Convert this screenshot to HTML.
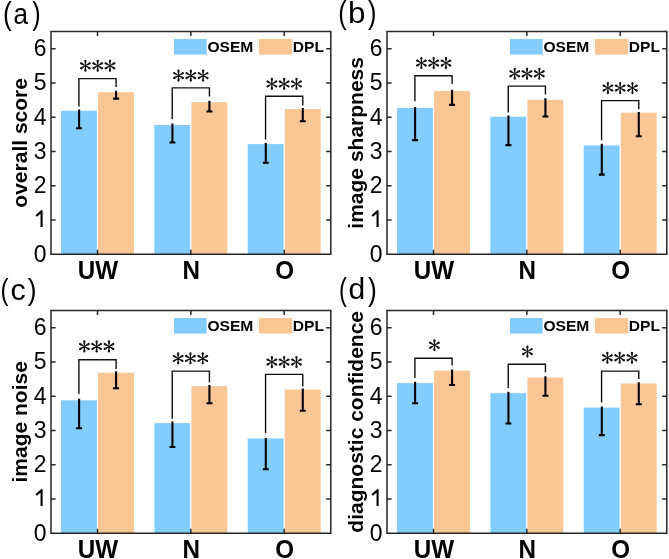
<!DOCTYPE html>
<html><head><meta charset="utf-8"><title>Figure</title>
<style>
html,body{margin:0;padding:0;background:#fff;}
body{width:669px;height:559px;overflow:hidden;}
svg{display:block;will-change:transform;filter:blur(0.3px);}
svg text{font-family:'Liberation Sans',sans-serif;fill:#000;}
</style></head>
<body>
<svg width="669" height="559" viewBox="0 0 669 559">
<rect width="669" height="559" fill="#fff"/>
<g transform="translate(0,0)">
<rect x="61" y="110.8" width="35.9" height="143.5" fill="#82CDFE"/>
<rect x="98.1" y="92.2" width="35.9" height="162.1" fill="#FBC695"/>
<rect x="154.33" y="125" width="35.9" height="129.3" fill="#82CDFE"/>
<rect x="191.43" y="102.2" width="35.9" height="152.1" fill="#FBC695"/>
<rect x="247.67" y="144.1" width="35.9" height="110.2" fill="#82CDFE"/>
<rect x="284.77" y="109" width="35.9" height="145.3" fill="#FBC695"/>
<path d="M79.1 109.4V128.3M76.1 128.3H82.1M116.1 90.8V98.6M113.1 98.6H119.1M172.43 123.6V142.5M169.43 142.5H175.43M209.43 100.8V111.5M206.43 111.5H212.43M265.77 142.9V162.8M262.77 162.8H268.77M302.77 108.1V121.2M299.77 121.2H305.77" stroke="#000" stroke-width="2.1" fill="none"/>
<path d="M78.9 106.4V78.6H116.1V86.9M172.23 119V87.9H209.43V96.6M265.57 139.6V96.2H302.77V105.6" stroke="#111" stroke-width="1.4" fill="none"/>
<path d="M85.1 65.75L84.25 60.8A1.15 1.15 0 0 1 86.55 60.8L85.7 65.75ZM85.25 65.49L89.11 62.28A1.15 1.15 0 0 1 90.26 64.27L85.55 66.01ZM85.55 65.49L90.26 67.23A1.15 1.15 0 0 1 89.11 69.22L85.25 66.01ZM85.7 65.75L86.55 70.7A1.15 1.15 0 0 1 84.25 70.7L85.1 65.75ZM85.55 66.01L81.69 69.22A1.15 1.15 0 0 1 80.54 67.23L85.25 65.49ZM85.25 66.01L80.54 64.27A1.15 1.15 0 0 1 81.69 62.28L85.55 65.49ZM97.4 65.75L96.55 60.8A1.15 1.15 0 0 1 98.85 60.8L98 65.75ZM97.55 65.49L101.41 62.28A1.15 1.15 0 0 1 102.56 64.27L97.85 66.01ZM97.85 65.49L102.56 67.23A1.15 1.15 0 0 1 101.41 69.22L97.55 66.01ZM98 65.75L98.85 70.7A1.15 1.15 0 0 1 96.55 70.7L97.4 65.75ZM97.85 66.01L93.99 69.22A1.15 1.15 0 0 1 92.84 67.23L97.55 65.49ZM97.55 66.01L92.84 64.27A1.15 1.15 0 0 1 93.99 62.28L97.85 65.49ZM109.7 65.75L108.85 60.8A1.15 1.15 0 0 1 111.15 60.8L110.3 65.75ZM109.85 65.49L113.71 62.28A1.15 1.15 0 0 1 114.86 64.27L110.15 66.01ZM110.15 65.49L114.86 67.23A1.15 1.15 0 0 1 113.71 69.22L109.85 66.01ZM110.3 65.75L111.15 70.7A1.15 1.15 0 0 1 108.85 70.7L109.7 65.75ZM110.15 66.01L106.29 69.22A1.15 1.15 0 0 1 105.14 67.23L109.85 65.49ZM109.85 66.01L105.14 64.27A1.15 1.15 0 0 1 106.29 62.28L110.15 65.49ZM178.23 75.6L177.38 70.65A1.15 1.15 0 0 1 179.68 70.65L178.83 75.6ZM178.38 75.34L182.24 72.13A1.15 1.15 0 0 1 183.39 74.12L178.68 75.86ZM178.68 75.34L183.39 77.08A1.15 1.15 0 0 1 182.24 79.07L178.38 75.86ZM178.83 75.6L179.68 80.55A1.15 1.15 0 0 1 177.38 80.55L178.23 75.6ZM178.68 75.86L174.82 79.07A1.15 1.15 0 0 1 173.67 77.08L178.38 75.34ZM178.38 75.86L173.67 74.12A1.15 1.15 0 0 1 174.82 72.13L178.68 75.34ZM190.53 75.6L189.68 70.65A1.15 1.15 0 0 1 191.98 70.65L191.13 75.6ZM190.68 75.34L194.54 72.13A1.15 1.15 0 0 1 195.69 74.12L190.98 75.86ZM190.98 75.34L195.69 77.08A1.15 1.15 0 0 1 194.54 79.07L190.68 75.86ZM191.13 75.6L191.98 80.55A1.15 1.15 0 0 1 189.68 80.55L190.53 75.6ZM190.98 75.86L187.12 79.07A1.15 1.15 0 0 1 185.97 77.08L190.68 75.34ZM190.68 75.86L185.97 74.12A1.15 1.15 0 0 1 187.12 72.13L190.98 75.34ZM202.83 75.6L201.98 70.65A1.15 1.15 0 0 1 204.28 70.65L203.43 75.6ZM202.98 75.34L206.84 72.13A1.15 1.15 0 0 1 207.99 74.12L203.28 75.86ZM203.28 75.34L207.99 77.08A1.15 1.15 0 0 1 206.84 79.07L202.98 75.86ZM203.43 75.6L204.28 80.55A1.15 1.15 0 0 1 201.98 80.55L202.83 75.6ZM203.28 75.86L199.42 79.07A1.15 1.15 0 0 1 198.27 77.08L202.98 75.34ZM202.98 75.86L198.27 74.12A1.15 1.15 0 0 1 199.42 72.13L203.28 75.34ZM271.57 83.9L270.72 78.95A1.15 1.15 0 0 1 273.02 78.95L272.17 83.9ZM271.72 83.64L275.58 80.43A1.15 1.15 0 0 1 276.73 82.42L272.02 84.16ZM272.02 83.64L276.73 85.38A1.15 1.15 0 0 1 275.58 87.37L271.72 84.16ZM272.17 83.9L273.02 88.85A1.15 1.15 0 0 1 270.72 88.85L271.57 83.9ZM272.02 84.16L268.16 87.37A1.15 1.15 0 0 1 267.01 85.38L271.72 83.64ZM271.72 84.16L267.01 82.42A1.15 1.15 0 0 1 268.16 80.43L272.02 83.64ZM283.87 83.9L283.02 78.95A1.15 1.15 0 0 1 285.32 78.95L284.47 83.9ZM284.02 83.64L287.88 80.43A1.15 1.15 0 0 1 289.03 82.42L284.32 84.16ZM284.32 83.64L289.03 85.38A1.15 1.15 0 0 1 287.88 87.37L284.02 84.16ZM284.47 83.9L285.32 88.85A1.15 1.15 0 0 1 283.02 88.85L283.87 83.9ZM284.32 84.16L280.46 87.37A1.15 1.15 0 0 1 279.31 85.38L284.02 83.64ZM284.02 84.16L279.31 82.42A1.15 1.15 0 0 1 280.46 80.43L284.32 83.64ZM296.17 83.9L295.32 78.95A1.15 1.15 0 0 1 297.62 78.95L296.77 83.9ZM296.32 83.64L300.18 80.43A1.15 1.15 0 0 1 301.33 82.42L296.62 84.16ZM296.62 83.64L301.33 85.38A1.15 1.15 0 0 1 300.18 87.37L296.32 84.16ZM296.77 83.9L297.62 88.85A1.15 1.15 0 0 1 295.32 88.85L296.17 83.9ZM296.62 84.16L292.76 87.37A1.15 1.15 0 0 1 291.61 85.38L296.32 83.64ZM296.32 84.16L291.61 82.42A1.15 1.15 0 0 1 292.76 80.43L296.62 83.64Z" fill="#111"/>
<path d="M51 31.4H330.8V254.3H51ZM51 220.03h4.6M330.8 220.03h-4.6M51 185.76h4.6M330.8 185.76h-4.6M51 151.49h4.6M330.8 151.49h-4.6M51 117.22h4.6M330.8 117.22h-4.6M51 82.95h4.6M330.8 82.95h-4.6M51 48.68h4.6M330.8 48.68h-4.6M97.5 31.4v4.6M97.5 254.3v-4.6M190.83 31.4v4.6M190.83 254.3v-4.6M284.17 31.4v4.6M284.17 254.3v-4.6" stroke="#262626" stroke-width="1.5" fill="none"/>
<text transform="translate(46.6,261.7) scale(1.02,1.08)" text-anchor="end" font-size="22.5">0</text>
<path d="M41.6 210.83V226.93M42.3 210.63L36.2 216.03" stroke="#000" stroke-width="2.1" fill="none"/>
<text transform="translate(46.6,193.16) scale(1.02,1.08)" text-anchor="end" font-size="22.5">2</text>
<text transform="translate(46.6,158.89) scale(1.02,1.08)" text-anchor="end" font-size="22.5">3</text>
<text transform="translate(46.6,124.62) scale(1.02,1.08)" text-anchor="end" font-size="22.5">4</text>
<text transform="translate(46.6,90.35) scale(1.02,1.08)" text-anchor="end" font-size="22.5">5</text>
<text transform="translate(46.6,56.08) scale(1.02,1.08)" text-anchor="end" font-size="22.5">6</text>
<text transform="translate(98,279.2) scale(0.97,1)" text-anchor="middle" font-size="25" font-weight="bold">UW</text>
<text transform="translate(191.33,279.2) scale(0.97,1)" text-anchor="middle" font-size="25" font-weight="bold">N</text>
<text transform="translate(284.67,279.2) scale(0.97,1)" text-anchor="middle" font-size="25" font-weight="bold">O</text>
<text transform="translate(27.3,142.85) rotate(-90)" text-anchor="middle" font-size="21" font-weight="bold">overall score</text>
<text transform="translate(3.06,23.91) scale(0.8800,1.0448)" font-size="30.0">(</text>
<text transform="translate(13.59,23.71) scale(0.8696,0.9796)" font-size="30.0">a</text>
<text transform="translate(32.25,23.91) scale(0.8423,1.0448)" font-size="30.0">)</text>
<rect x="174" y="39" width="32.7" height="15.6" fill="#82CDFE"/>
<rect x="259" y="39" width="33.2" height="15.6" fill="#FBC695"/>
<text transform="translate(207.4,51.8) scale(1,0.94)" font-size="15.6" font-weight="bold">OSEM</text>
<text transform="translate(292.8,51.8) scale(1,0.94)" font-size="15.6" font-weight="bold">DPL</text>
</g>
<g transform="translate(336,0)">
<rect x="61" y="107.9" width="35.9" height="146.4" fill="#82CDFE"/>
<rect x="98.1" y="91" width="35.9" height="163.3" fill="#FBC695"/>
<rect x="154.33" y="116.7" width="35.9" height="137.6" fill="#82CDFE"/>
<rect x="191.43" y="99.8" width="35.9" height="154.5" fill="#FBC695"/>
<rect x="247.67" y="145.4" width="35.9" height="108.9" fill="#82CDFE"/>
<rect x="284.77" y="112.7" width="35.9" height="141.6" fill="#FBC695"/>
<path d="M79.1 106.9V140.1M76.1 140.1H82.1M116.1 89.7V104.9M113.1 104.9H119.1M172.43 115.6V145.1M169.43 145.1H175.43M209.43 98.2V116.5M206.43 116.5H212.43M265.77 143.8V174.6M262.77 174.6H268.77M302.77 112V136.2M299.77 136.2H305.77" stroke="#000" stroke-width="2.1" fill="none"/>
<path d="M78.9 101.2V75.7H116.1V84M172.23 112.6V86.1H209.43V94.5M265.57 140.3V100.6H302.77V109.2" stroke="#111" stroke-width="1.4" fill="none"/>
<path d="M85.1 63.05L84.25 58.1A1.15 1.15 0 0 1 86.55 58.1L85.7 63.05ZM85.25 62.79L89.11 59.58A1.15 1.15 0 0 1 90.26 61.57L85.55 63.31ZM85.55 62.79L90.26 64.53A1.15 1.15 0 0 1 89.11 66.52L85.25 63.31ZM85.7 63.05L86.55 68A1.15 1.15 0 0 1 84.25 68L85.1 63.05ZM85.55 63.31L81.69 66.52A1.15 1.15 0 0 1 80.54 64.53L85.25 62.79ZM85.25 63.31L80.54 61.57A1.15 1.15 0 0 1 81.69 59.58L85.55 62.79ZM97.4 63.05L96.55 58.1A1.15 1.15 0 0 1 98.85 58.1L98 63.05ZM97.55 62.79L101.41 59.58A1.15 1.15 0 0 1 102.56 61.57L97.85 63.31ZM97.85 62.79L102.56 64.53A1.15 1.15 0 0 1 101.41 66.52L97.55 63.31ZM98 63.05L98.85 68A1.15 1.15 0 0 1 96.55 68L97.4 63.05ZM97.85 63.31L93.99 66.52A1.15 1.15 0 0 1 92.84 64.53L97.55 62.79ZM97.55 63.31L92.84 61.57A1.15 1.15 0 0 1 93.99 59.58L97.85 62.79ZM109.7 63.05L108.85 58.1A1.15 1.15 0 0 1 111.15 58.1L110.3 63.05ZM109.85 62.79L113.71 59.58A1.15 1.15 0 0 1 114.86 61.57L110.15 63.31ZM110.15 62.79L114.86 64.53A1.15 1.15 0 0 1 113.71 66.52L109.85 63.31ZM110.3 63.05L111.15 68A1.15 1.15 0 0 1 108.85 68L109.7 63.05ZM110.15 63.31L106.29 66.52A1.15 1.15 0 0 1 105.14 64.53L109.85 62.79ZM109.85 63.31L105.14 61.57A1.15 1.15 0 0 1 106.29 59.58L110.15 62.79ZM178.43 73.75L177.58 68.8A1.15 1.15 0 0 1 179.88 68.8L179.03 73.75ZM178.58 73.49L182.44 70.28A1.15 1.15 0 0 1 183.59 72.27L178.88 74.01ZM178.88 73.49L183.59 75.23A1.15 1.15 0 0 1 182.44 77.22L178.58 74.01ZM179.03 73.75L179.88 78.7A1.15 1.15 0 0 1 177.58 78.7L178.43 73.75ZM178.88 74.01L175.02 77.22A1.15 1.15 0 0 1 173.87 75.23L178.58 73.49ZM178.58 74.01L173.87 72.27A1.15 1.15 0 0 1 175.02 70.28L178.88 73.49ZM190.73 73.75L189.88 68.8A1.15 1.15 0 0 1 192.18 68.8L191.33 73.75ZM190.88 73.49L194.74 70.28A1.15 1.15 0 0 1 195.89 72.27L191.18 74.01ZM191.18 73.49L195.89 75.23A1.15 1.15 0 0 1 194.74 77.22L190.88 74.01ZM191.33 73.75L192.18 78.7A1.15 1.15 0 0 1 189.88 78.7L190.73 73.75ZM191.18 74.01L187.32 77.22A1.15 1.15 0 0 1 186.17 75.23L190.88 73.49ZM190.88 74.01L186.17 72.27A1.15 1.15 0 0 1 187.32 70.28L191.18 73.49ZM203.03 73.75L202.18 68.8A1.15 1.15 0 0 1 204.48 68.8L203.63 73.75ZM203.18 73.49L207.04 70.28A1.15 1.15 0 0 1 208.19 72.27L203.48 74.01ZM203.48 73.49L208.19 75.23A1.15 1.15 0 0 1 207.04 77.22L203.18 74.01ZM203.63 73.75L204.48 78.7A1.15 1.15 0 0 1 202.18 78.7L203.03 73.75ZM203.48 74.01L199.62 77.22A1.15 1.15 0 0 1 198.47 75.23L203.18 73.49ZM203.18 74.01L198.47 72.27A1.15 1.15 0 0 1 199.62 70.28L203.48 73.49ZM271.57 88.05L270.72 83.1A1.15 1.15 0 0 1 273.02 83.1L272.17 88.05ZM271.72 87.79L275.58 84.58A1.15 1.15 0 0 1 276.73 86.57L272.02 88.31ZM272.02 87.79L276.73 89.53A1.15 1.15 0 0 1 275.58 91.52L271.72 88.31ZM272.17 88.05L273.02 93A1.15 1.15 0 0 1 270.72 93L271.57 88.05ZM272.02 88.31L268.16 91.52A1.15 1.15 0 0 1 267.01 89.53L271.72 87.79ZM271.72 88.31L267.01 86.57A1.15 1.15 0 0 1 268.16 84.58L272.02 87.79ZM283.87 88.05L283.02 83.1A1.15 1.15 0 0 1 285.32 83.1L284.47 88.05ZM284.02 87.79L287.88 84.58A1.15 1.15 0 0 1 289.03 86.57L284.32 88.31ZM284.32 87.79L289.03 89.53A1.15 1.15 0 0 1 287.88 91.52L284.02 88.31ZM284.47 88.05L285.32 93A1.15 1.15 0 0 1 283.02 93L283.87 88.05ZM284.32 88.31L280.46 91.52A1.15 1.15 0 0 1 279.31 89.53L284.02 87.79ZM284.02 88.31L279.31 86.57A1.15 1.15 0 0 1 280.46 84.58L284.32 87.79ZM296.17 88.05L295.32 83.1A1.15 1.15 0 0 1 297.62 83.1L296.77 88.05ZM296.32 87.79L300.18 84.58A1.15 1.15 0 0 1 301.33 86.57L296.62 88.31ZM296.62 87.79L301.33 89.53A1.15 1.15 0 0 1 300.18 91.52L296.32 88.31ZM296.77 88.05L297.62 93A1.15 1.15 0 0 1 295.32 93L296.17 88.05ZM296.62 88.31L292.76 91.52A1.15 1.15 0 0 1 291.61 89.53L296.32 87.79ZM296.32 88.31L291.61 86.57A1.15 1.15 0 0 1 292.76 84.58L296.62 87.79Z" fill="#111"/>
<path d="M51 31.4H330.8V254.3H51ZM51 220.03h4.6M330.8 220.03h-4.6M51 185.76h4.6M330.8 185.76h-4.6M51 151.49h4.6M330.8 151.49h-4.6M51 117.22h4.6M330.8 117.22h-4.6M51 82.95h4.6M330.8 82.95h-4.6M51 48.68h4.6M330.8 48.68h-4.6M97.5 31.4v4.6M97.5 254.3v-4.6M190.83 31.4v4.6M190.83 254.3v-4.6M284.17 31.4v4.6M284.17 254.3v-4.6" stroke="#262626" stroke-width="1.5" fill="none"/>
<text transform="translate(46.6,261.7) scale(1.02,1.08)" text-anchor="end" font-size="22.5">0</text>
<path d="M41.6 210.83V226.93M42.3 210.63L36.2 216.03" stroke="#000" stroke-width="2.1" fill="none"/>
<text transform="translate(46.6,193.16) scale(1.02,1.08)" text-anchor="end" font-size="22.5">2</text>
<text transform="translate(46.6,158.89) scale(1.02,1.08)" text-anchor="end" font-size="22.5">3</text>
<text transform="translate(46.6,124.62) scale(1.02,1.08)" text-anchor="end" font-size="22.5">4</text>
<text transform="translate(46.6,90.35) scale(1.02,1.08)" text-anchor="end" font-size="22.5">5</text>
<text transform="translate(46.6,56.08) scale(1.02,1.08)" text-anchor="end" font-size="22.5">6</text>
<text transform="translate(98,279.2) scale(0.97,1)" text-anchor="middle" font-size="25" font-weight="bold">UW</text>
<text transform="translate(191.33,279.2) scale(0.97,1)" text-anchor="middle" font-size="25" font-weight="bold">N</text>
<text transform="translate(284.67,279.2) scale(0.97,1)" text-anchor="middle" font-size="25" font-weight="bold">O</text>
<text transform="translate(27.3,142.85) rotate(-90)" text-anchor="middle" font-size="21" font-weight="bold">image sharpness</text>
<text transform="translate(2.13,23.44) scale(0.8423,1.0233)" font-size="30.0">(</text>
<text transform="translate(11.98,23.31) scale(1.0451,0.9759)" font-size="30.0">b</text>
<text transform="translate(31.95,23.44) scale(0.8423,1.0233)" font-size="30.0">)</text>
<rect x="174" y="39" width="32.7" height="15.6" fill="#82CDFE"/>
<rect x="259" y="39" width="33.2" height="15.6" fill="#FBC695"/>
<text transform="translate(207.4,51.8) scale(1,0.94)" font-size="15.6" font-weight="bold">OSEM</text>
<text transform="translate(292.8,51.8) scale(1,0.94)" font-size="15.6" font-weight="bold">DPL</text>
</g>
<g transform="translate(0,279)">
<rect x="61" y="121.3" width="35.9" height="133" fill="#82CDFE"/>
<rect x="98.1" y="93.7" width="35.9" height="160.6" fill="#FBC695"/>
<rect x="154.33" y="144.1" width="35.9" height="110.2" fill="#82CDFE"/>
<rect x="191.43" y="107.2" width="35.9" height="147.1" fill="#FBC695"/>
<rect x="247.67" y="159.4" width="35.9" height="94.9" fill="#82CDFE"/>
<rect x="284.77" y="110.5" width="35.9" height="143.8" fill="#FBC695"/>
<path d="M79.1 119.7V149.3M76.1 149.3H82.1M116.1 92.3V109.3M113.1 109.3H119.1M172.43 142.6V168M169.43 168H175.43M209.43 106.1V124.2M206.43 124.2H212.43M265.77 158.9V190.3M262.77 190.3H268.77M302.77 109.4V131.8M299.77 131.8H305.77" stroke="#000" stroke-width="2.1" fill="none"/>
<path d="M78.9 115.1V80.7H116.1V90M172.23 139.8V92.1H209.43V103.3M265.57 154V95.4H302.77V107.4" stroke="#111" stroke-width="1.4" fill="none"/>
<path d="M84.05 67.45L83.2 62.5A1.15 1.15 0 0 1 85.5 62.5L84.65 67.45ZM84.2 67.19L88.06 63.98A1.15 1.15 0 0 1 89.21 65.97L84.5 67.71ZM84.5 67.19L89.21 68.93A1.15 1.15 0 0 1 88.06 70.92L84.2 67.71ZM84.65 67.45L85.5 72.4A1.15 1.15 0 0 1 83.2 72.4L84.05 67.45ZM84.5 67.71L80.64 70.92A1.15 1.15 0 0 1 79.49 68.93L84.2 67.19ZM84.2 67.71L79.49 65.97A1.15 1.15 0 0 1 80.64 63.98L84.5 67.19ZM96.35 67.45L95.5 62.5A1.15 1.15 0 0 1 97.8 62.5L96.95 67.45ZM96.5 67.19L100.36 63.98A1.15 1.15 0 0 1 101.51 65.97L96.8 67.71ZM96.8 67.19L101.51 68.93A1.15 1.15 0 0 1 100.36 70.92L96.5 67.71ZM96.95 67.45L97.8 72.4A1.15 1.15 0 0 1 95.5 72.4L96.35 67.45ZM96.8 67.71L92.94 70.92A1.15 1.15 0 0 1 91.79 68.93L96.5 67.19ZM96.5 67.71L91.79 65.97A1.15 1.15 0 0 1 92.94 63.98L96.8 67.19ZM108.65 67.45L107.8 62.5A1.15 1.15 0 0 1 110.1 62.5L109.25 67.45ZM108.8 67.19L112.66 63.98A1.15 1.15 0 0 1 113.81 65.97L109.1 67.71ZM109.1 67.19L113.81 68.93A1.15 1.15 0 0 1 112.66 70.92L108.8 67.71ZM109.25 67.45L110.1 72.4A1.15 1.15 0 0 1 107.8 72.4L108.65 67.45ZM109.1 67.71L105.24 70.92A1.15 1.15 0 0 1 104.09 68.93L108.8 67.19ZM108.8 67.71L104.09 65.97A1.15 1.15 0 0 1 105.24 63.98L109.1 67.19ZM177.83 79.4L176.98 74.45A1.15 1.15 0 0 1 179.28 74.45L178.43 79.4ZM177.98 79.14L181.84 75.93A1.15 1.15 0 0 1 182.99 77.92L178.28 79.66ZM178.28 79.14L182.99 80.88A1.15 1.15 0 0 1 181.84 82.87L177.98 79.66ZM178.43 79.4L179.28 84.35A1.15 1.15 0 0 1 176.98 84.35L177.83 79.4ZM178.28 79.66L174.42 82.87A1.15 1.15 0 0 1 173.27 80.88L177.98 79.14ZM177.98 79.66L173.27 77.92A1.15 1.15 0 0 1 174.42 75.93L178.28 79.14ZM190.13 79.4L189.28 74.45A1.15 1.15 0 0 1 191.58 74.45L190.73 79.4ZM190.28 79.14L194.14 75.93A1.15 1.15 0 0 1 195.29 77.92L190.58 79.66ZM190.58 79.14L195.29 80.88A1.15 1.15 0 0 1 194.14 82.87L190.28 79.66ZM190.73 79.4L191.58 84.35A1.15 1.15 0 0 1 189.28 84.35L190.13 79.4ZM190.58 79.66L186.72 82.87A1.15 1.15 0 0 1 185.57 80.88L190.28 79.14ZM190.28 79.66L185.57 77.92A1.15 1.15 0 0 1 186.72 75.93L190.58 79.14ZM202.43 79.4L201.58 74.45A1.15 1.15 0 0 1 203.88 74.45L203.03 79.4ZM202.58 79.14L206.44 75.93A1.15 1.15 0 0 1 207.59 77.92L202.88 79.66ZM202.88 79.14L207.59 80.88A1.15 1.15 0 0 1 206.44 82.87L202.58 79.66ZM203.03 79.4L203.88 84.35A1.15 1.15 0 0 1 201.58 84.35L202.43 79.4ZM202.88 79.66L199.02 82.87A1.15 1.15 0 0 1 197.87 80.88L202.58 79.14ZM202.58 79.66L197.87 77.92A1.15 1.15 0 0 1 199.02 75.93L202.88 79.14ZM271.57 83.05L270.72 78.1A1.15 1.15 0 0 1 273.02 78.1L272.17 83.05ZM271.72 82.79L275.58 79.58A1.15 1.15 0 0 1 276.73 81.57L272.02 83.31ZM272.02 82.79L276.73 84.53A1.15 1.15 0 0 1 275.58 86.52L271.72 83.31ZM272.17 83.05L273.02 88A1.15 1.15 0 0 1 270.72 88L271.57 83.05ZM272.02 83.31L268.16 86.52A1.15 1.15 0 0 1 267.01 84.53L271.72 82.79ZM271.72 83.31L267.01 81.57A1.15 1.15 0 0 1 268.16 79.58L272.02 82.79ZM283.87 83.05L283.02 78.1A1.15 1.15 0 0 1 285.32 78.1L284.47 83.05ZM284.02 82.79L287.88 79.58A1.15 1.15 0 0 1 289.03 81.57L284.32 83.31ZM284.32 82.79L289.03 84.53A1.15 1.15 0 0 1 287.88 86.52L284.02 83.31ZM284.47 83.05L285.32 88A1.15 1.15 0 0 1 283.02 88L283.87 83.05ZM284.32 83.31L280.46 86.52A1.15 1.15 0 0 1 279.31 84.53L284.02 82.79ZM284.02 83.31L279.31 81.57A1.15 1.15 0 0 1 280.46 79.58L284.32 82.79ZM296.17 83.05L295.32 78.1A1.15 1.15 0 0 1 297.62 78.1L296.77 83.05ZM296.32 82.79L300.18 79.58A1.15 1.15 0 0 1 301.33 81.57L296.62 83.31ZM296.62 82.79L301.33 84.53A1.15 1.15 0 0 1 300.18 86.52L296.32 83.31ZM296.77 83.05L297.62 88A1.15 1.15 0 0 1 295.32 88L296.17 83.05ZM296.62 83.31L292.76 86.52A1.15 1.15 0 0 1 291.61 84.53L296.32 82.79ZM296.32 83.31L291.61 81.57A1.15 1.15 0 0 1 292.76 79.58L296.62 82.79Z" fill="#111"/>
<path d="M51 31.4H330.8V254.3H51ZM51 220.03h4.6M330.8 220.03h-4.6M51 185.76h4.6M330.8 185.76h-4.6M51 151.49h4.6M330.8 151.49h-4.6M51 117.22h4.6M330.8 117.22h-4.6M51 82.95h4.6M330.8 82.95h-4.6M51 48.68h4.6M330.8 48.68h-4.6M97.5 31.4v4.6M97.5 254.3v-4.6M190.83 31.4v4.6M190.83 254.3v-4.6M284.17 31.4v4.6M284.17 254.3v-4.6" stroke="#262626" stroke-width="1.5" fill="none"/>
<text transform="translate(46.6,261.7) scale(1.02,1.08)" text-anchor="end" font-size="22.5">0</text>
<path d="M41.6 210.83V226.93M42.3 210.63L36.2 216.03" stroke="#000" stroke-width="2.1" fill="none"/>
<text transform="translate(46.6,193.16) scale(1.02,1.08)" text-anchor="end" font-size="22.5">2</text>
<text transform="translate(46.6,158.89) scale(1.02,1.08)" text-anchor="end" font-size="22.5">3</text>
<text transform="translate(46.6,124.62) scale(1.02,1.08)" text-anchor="end" font-size="22.5">4</text>
<text transform="translate(46.6,90.35) scale(1.02,1.08)" text-anchor="end" font-size="22.5">5</text>
<text transform="translate(46.6,56.08) scale(1.02,1.08)" text-anchor="end" font-size="22.5">6</text>
<text transform="translate(98,279.2) scale(0.97,1)" text-anchor="middle" font-size="25" font-weight="bold">UW</text>
<text transform="translate(191.33,279.2) scale(0.97,1)" text-anchor="middle" font-size="25" font-weight="bold">N</text>
<text transform="translate(284.67,279.2) scale(0.97,1)" text-anchor="middle" font-size="25" font-weight="bold">O</text>
<text transform="translate(27.3,142.85) rotate(-90)" text-anchor="middle" font-size="21" font-weight="bold">image noise</text>
<text transform="translate(0.60,21.10) scale(0.8046,0.9982)" font-size="30.0">(</text>
<text transform="translate(10.51,20.92) scale(1.0128,0.9552)" font-size="30.0">c</text>
<text transform="translate(27.75,21.10) scale(0.8800,0.9982)" font-size="30.0">)</text>
<rect x="174" y="39" width="32.7" height="15.6" fill="#82CDFE"/>
<rect x="259" y="39" width="33.2" height="15.6" fill="#FBC695"/>
<text transform="translate(207.4,51.8) scale(1,0.94)" font-size="15.6" font-weight="bold">OSEM</text>
<text transform="translate(292.8,51.8) scale(1,0.94)" font-size="15.6" font-weight="bold">DPL</text>
</g>
<g transform="translate(336,279)">
<rect x="61" y="104.1" width="35.9" height="150.2" fill="#82CDFE"/>
<rect x="98.1" y="91.7" width="35.9" height="162.6" fill="#FBC695"/>
<rect x="154.33" y="114.1" width="35.9" height="140.2" fill="#82CDFE"/>
<rect x="191.43" y="98.5" width="35.9" height="155.8" fill="#FBC695"/>
<rect x="247.67" y="128.6" width="35.9" height="125.7" fill="#82CDFE"/>
<rect x="284.77" y="104.5" width="35.9" height="149.8" fill="#FBC695"/>
<path d="M79.1 102.8V124.2M76.1 124.2H82.1M116.1 90.4V106M113.1 106H119.1M172.43 112.8V144.5M169.43 144.5H175.43M209.43 97.2V116.8M206.43 116.8H212.43M265.77 127.5V156.1M262.77 156.1H268.77M302.77 103.3V125.2M299.77 125.2H305.77" stroke="#000" stroke-width="2.1" fill="none"/>
<path d="M78.9 98.9V79.2H116.1V86.5M172.23 108.9V85.2H209.43V93.3M265.57 123.6V92.1H302.77V100" stroke="#111" stroke-width="1.4" fill="none"/>
<path d="M98.1 66.25L97.25 61.3A1.15 1.15 0 0 1 99.55 61.3L98.7 66.25ZM98.25 65.99L102.11 62.78A1.15 1.15 0 0 1 103.26 64.77L98.55 66.51ZM98.55 65.99L103.26 67.73A1.15 1.15 0 0 1 102.11 69.72L98.25 66.51ZM98.7 66.25L99.55 71.2A1.15 1.15 0 0 1 97.25 71.2L98.1 66.25ZM98.55 66.51L94.69 69.72A1.15 1.15 0 0 1 93.54 67.73L98.25 65.99ZM98.25 66.51L93.54 64.77A1.15 1.15 0 0 1 94.69 62.78L98.55 65.99ZM191.13 72.6L190.28 67.65A1.15 1.15 0 0 1 192.58 67.65L191.73 72.6ZM191.28 72.34L195.14 69.13A1.15 1.15 0 0 1 196.29 71.12L191.58 72.86ZM191.58 72.34L196.29 74.08A1.15 1.15 0 0 1 195.14 76.07L191.28 72.86ZM191.73 72.6L192.58 77.55A1.15 1.15 0 0 1 190.28 77.55L191.13 72.6ZM191.58 72.86L187.72 76.07A1.15 1.15 0 0 1 186.57 74.08L191.28 72.34ZM191.28 72.86L186.57 71.12A1.15 1.15 0 0 1 187.72 69.13L191.58 72.34ZM271.07 78.75L270.22 73.8A1.15 1.15 0 0 1 272.52 73.8L271.67 78.75ZM271.22 78.49L275.08 75.28A1.15 1.15 0 0 1 276.23 77.27L271.52 79.01ZM271.52 78.49L276.23 80.23A1.15 1.15 0 0 1 275.08 82.22L271.22 79.01ZM271.67 78.75L272.52 83.7A1.15 1.15 0 0 1 270.22 83.7L271.07 78.75ZM271.52 79.01L267.66 82.22A1.15 1.15 0 0 1 266.51 80.23L271.22 78.49ZM271.22 79.01L266.51 77.27A1.15 1.15 0 0 1 267.66 75.28L271.52 78.49ZM283.37 78.75L282.52 73.8A1.15 1.15 0 0 1 284.82 73.8L283.97 78.75ZM283.52 78.49L287.38 75.28A1.15 1.15 0 0 1 288.53 77.27L283.82 79.01ZM283.82 78.49L288.53 80.23A1.15 1.15 0 0 1 287.38 82.22L283.52 79.01ZM283.97 78.75L284.82 83.7A1.15 1.15 0 0 1 282.52 83.7L283.37 78.75ZM283.82 79.01L279.96 82.22A1.15 1.15 0 0 1 278.81 80.23L283.52 78.49ZM283.52 79.01L278.81 77.27A1.15 1.15 0 0 1 279.96 75.28L283.82 78.49ZM295.67 78.75L294.82 73.8A1.15 1.15 0 0 1 297.12 73.8L296.27 78.75ZM295.82 78.49L299.68 75.28A1.15 1.15 0 0 1 300.83 77.27L296.12 79.01ZM296.12 78.49L300.83 80.23A1.15 1.15 0 0 1 299.68 82.22L295.82 79.01ZM296.27 78.75L297.12 83.7A1.15 1.15 0 0 1 294.82 83.7L295.67 78.75ZM296.12 79.01L292.26 82.22A1.15 1.15 0 0 1 291.11 80.23L295.82 78.49ZM295.82 79.01L291.11 77.27A1.15 1.15 0 0 1 292.26 75.28L296.12 78.49Z" fill="#111"/>
<path d="M51 31.4H330.8V254.3H51ZM51 220.03h4.6M330.8 220.03h-4.6M51 185.76h4.6M330.8 185.76h-4.6M51 151.49h4.6M330.8 151.49h-4.6M51 117.22h4.6M330.8 117.22h-4.6M51 82.95h4.6M330.8 82.95h-4.6M51 48.68h4.6M330.8 48.68h-4.6M97.5 31.4v4.6M97.5 254.3v-4.6M190.83 31.4v4.6M190.83 254.3v-4.6M284.17 31.4v4.6M284.17 254.3v-4.6" stroke="#262626" stroke-width="1.5" fill="none"/>
<text transform="translate(46.6,261.7) scale(1.02,1.08)" text-anchor="end" font-size="22.5">0</text>
<path d="M41.6 210.83V226.93M42.3 210.63L36.2 216.03" stroke="#000" stroke-width="2.1" fill="none"/>
<text transform="translate(46.6,193.16) scale(1.02,1.08)" text-anchor="end" font-size="22.5">2</text>
<text transform="translate(46.6,158.89) scale(1.02,1.08)" text-anchor="end" font-size="22.5">3</text>
<text transform="translate(46.6,124.62) scale(1.02,1.08)" text-anchor="end" font-size="22.5">4</text>
<text transform="translate(46.6,90.35) scale(1.02,1.08)" text-anchor="end" font-size="22.5">5</text>
<text transform="translate(46.6,56.08) scale(1.02,1.08)" text-anchor="end" font-size="22.5">6</text>
<text transform="translate(98,279.2) scale(0.97,1)" text-anchor="middle" font-size="25" font-weight="bold">UW</text>
<text transform="translate(191.33,279.2) scale(0.97,1)" text-anchor="middle" font-size="25" font-weight="bold">N</text>
<text transform="translate(284.67,279.2) scale(0.97,1)" text-anchor="middle" font-size="25" font-weight="bold">O</text>
<text transform="translate(27.3,142.85) rotate(-90)" text-anchor="middle" font-size="21" font-weight="bold">diagnostic confidence</text>
<text transform="translate(2.93,20.88) scale(0.7920,1.0340)" font-size="30.0">(</text>
<text transform="translate(12.44,20.31) scale(1.0007,0.9759)" font-size="30.0">d</text>
<text transform="translate(31.95,20.88) scale(0.8800,1.0340)" font-size="30.0">)</text>
<rect x="174" y="39" width="32.7" height="15.6" fill="#82CDFE"/>
<rect x="259" y="39" width="33.2" height="15.6" fill="#FBC695"/>
<text transform="translate(207.4,51.8) scale(1,0.94)" font-size="15.6" font-weight="bold">OSEM</text>
<text transform="translate(292.8,51.8) scale(1,0.94)" font-size="15.6" font-weight="bold">DPL</text>
</g>
</svg>
</body></html>
